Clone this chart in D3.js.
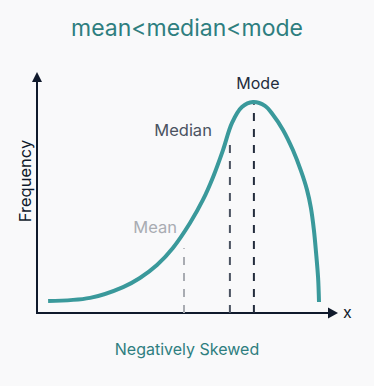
<!DOCTYPE html>
<html>
<head>
<meta charset="utf-8">
<script src="https://cdn.jsdelivr.net/npm/d3@7"></script>
<style>
  body { margin: 0; background: #f9f9fa; }
  text { font-family: Inter, "Noto Sans", sans-serif; }
</style>
</head>
<body>
<div id="chart"></div>
<script>
var svgWidth = 374;
var svgHeight = 386;

// curve (x value, frequency)
var curveX = [0.37, 1.77, 2.87, 3.43, 4.0, 4.53, 5.1, 5.53, 5.87, 6.2, 6.5, 6.83, 7.2, 7.6, 7.87, 8.2, 8.53, 8.8, 9.0, 9.13, 9.23, 9.3, 9.37, 9.4];
var curveY = [0.5, 0.63, 1.08, 1.46, 2.0, 2.71, 3.75, 4.71, 5.67, 6.79, 7.92, 8.58, 8.79, 8.63, 8.25, 7.63, 6.79, 5.92, 5.13, 4.38, 3.46, 2.54, 1.46, 0.46];

// mean, median, mode markers
var markNames = ["Mean", "Median", "Mode"];
var markX = [4.9, 6.43, 7.23];
var markTop = [2.7, 7.3, 8.7];

var title = "mean<median<mode";
var subtitle = "Negatively Skewed";

var margin = { top: 73, right: 37, bottom: 73, left: 37 };

var svg = d3.select("#chart")
  .append("svg")
  .attr("width", svgWidth)
  .attr("height", svgHeight);

svg.append("rect")
  .attr("width", svgWidth)
  .attr("height", svgHeight)
  .attr("fill", "#f9f9fa");

var x = d3.scaleLinear()
  .domain([0, 10])
  .range([margin.left, svgWidth - margin.right]);

var y = d3.scaleLinear()
  .domain([0, 10])
  .range([svgHeight - margin.bottom, margin.top]);

var axisColor = "#101a2c";

// axes with arrow heads
svg.append("line")
  .attr("x1", x(0)).attr("y1", y(0))
  .attr("x2", x(0)).attr("y2", y(10) + 6)
  .attr("stroke", axisColor)
  .attr("stroke-width", 2);

svg.append("path")
  .attr("d", `M${x(0)},${y(10) - 1} L${x(0) - 5},${y(10) + 9} L${x(0) + 5},${y(10) + 9} Z`)
  .attr("fill", axisColor);

svg.append("line")
  .attr("x1", x(0) - 1).attr("y1", y(0))
  .attr("x2", x(10) - 6).attr("y2", y(0))
  .attr("stroke", axisColor)
  .attr("stroke-width", 2);

svg.append("path")
  .attr("d", `M${x(10) + 1},${y(0)} L${x(10) - 9},${y(0) - 5.5} L${x(10) - 9},${y(0) + 5.5} Z`)
  .attr("fill", axisColor);

svg.append("text")
  .attr("x", x(10) + 6)
  .attr("y", y(0) + 5)
  .attr("font-size", 16)
  .attr("fill", axisColor)
  .text("x");

svg.append("text")
  .attr("transform", "translate(31, 181) rotate(-90)")
  .attr("text-anchor", "middle")
  .attr("font-size", 16.5)
  .attr("fill", axisColor)
  .text("Frequency");

// dashed lines
var markColors = ["#a9acb2", "#4b5361", "#232c3c"];
svg.selectAll(".mark")
  .data(markX)
  .enter()
  .append("line")
  .attr("class", "mark")
  .attr("x1", d => x(d))
  .attr("x2", d => x(d))
  .attr("y1", y(0))
  .attr("y2", (d, i) => y(markTop[i]))
  .attr("stroke", (d, i) => markColors[i])
  .attr("stroke-width", 2)
  .attr("stroke-dasharray", "8,8");

// curve
var line = d3.line()
  .x(d => x(d[0]))
  .y(d => y(d[1]))
  .curve(d3.curveCatmullRom.alpha(0.5));

svg.append("path")
  .datum(curveX.map((d, i) => [d, curveY[i]]))
  .attr("d", line)
  .attr("fill", "none")
  .attr("stroke", "#3a999b")
  .attr("stroke-width", 4);

// labels
svg.append("text")
  .attr("x", x(markX[2]) + 4)
  .attr("y", 89)
  .attr("text-anchor", "middle")
  .attr("font-size", 16)
  .attr("fill", markColors[2])
  .text(markNames[2]);

svg.append("text")
  .attr("x", x(markX[1]) - 18)
  .attr("y", 136)
  .attr("text-anchor", "end")
  .attr("font-size", 16.5)
  .attr("fill", markColors[1])
  .text(markNames[1]);

svg.append("text")
  .attr("x", x(markX[0]) - 7)
  .attr("y", 233)
  .attr("text-anchor", "end")
  .attr("font-size", 16.5)
  .attr("fill", markColors[0])
  .text(markNames[0]);

svg.append("text")
  .attr("x", svgWidth / 2)
  .attr("y", 36)
  .attr("text-anchor", "middle")
  .attr("font-size", 23)
  .attr("fill", "#2e7e7f")
  .text(title);

svg.append("text")
  .attr("x", svgWidth / 2)
  .attr("y", 355)
  .attr("text-anchor", "middle")
  .attr("font-size", 16)
  .attr("fill", "#2e7e7f")
  .text(subtitle);
</script>
</body>
</html>
